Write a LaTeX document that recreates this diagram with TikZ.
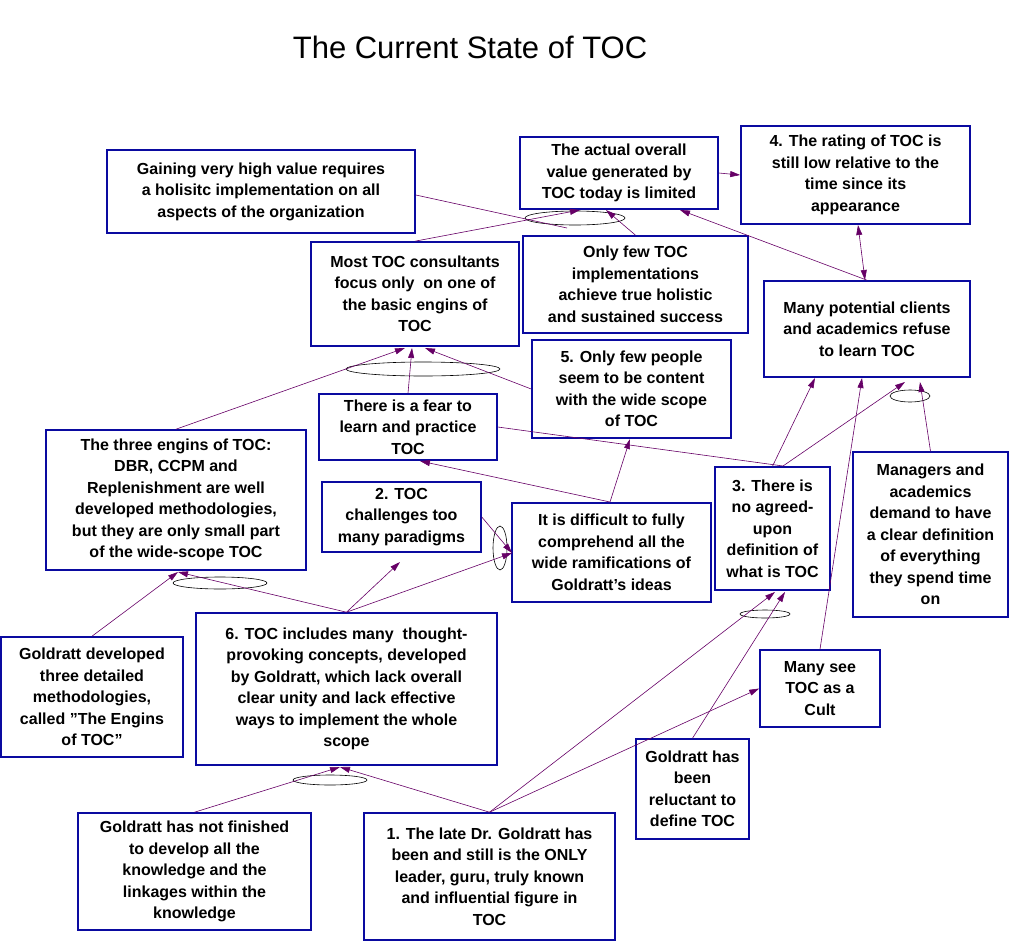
\documentclass[tikz,border=0pt]{standalone}
\usepackage{fontspec}
\setmainfont{Liberation Sans}
\usetikzlibrary{arrows.meta}
\definecolor{lnk}{HTML}{660066}
\definecolor{bx}{HTML}{0A0AA0}
\begin{document}
\begin{tikzpicture}[x=1pt,y=-1pt,
  box/.style={draw=bx,line width=1.6pt,fill=white,align=center,inner sep=2pt,font=\fontsize{16}{21.5}\selectfont\bfseries},
  lk/.style={draw=lnk,line width=0.6pt},
  ar/.style={lk,-{Triangle[length=10pt,width=6pt]},lnk},
  ell/.style={draw=black,line width=0.6pt}]
\useasboundingbox (0,0) rectangle (1011,942);
\node[font=\fontsize{31}{36}\selectfont] (title) at (470,47) {The Current State of TOC};

% connectors first
\coordinate (e1) at (580,210);
\coordinate (e1b) at (606,210);
\coordinate (e2a) at (405,348);
\coordinate (e2b) at (412,348);
\coordinate (e2c) at (425,348);
\coordinate (e3a) at (815,378);
\coordinate (e3b) at (905,382);
\coordinate (e3c) at (920,382);
\coordinate (ev) at (512,553);
\coordinate (e5) at (178,572);
\coordinate (e6) at (340,767);
\coordinate (e7a) at (775,592);
\coordinate (e7b) at (785,592);

\node[box,minimum width=308,minimum height=83] (gain) at (261,191.5) {Gaining very high value requires\\a holisitc implementation on all\\aspects of the organization};
\node[box,minimum width=198,minimum height=72] (act) at (619,173) {The actual overall\\value generated by\\TOC today is limited};
\node[box,minimum width=229,minimum height=98] (rate) at (855.5,175) {4. The rating of TOC is\\still low relative to the\\time since its\\appearance};
\node[box,minimum width=208,minimum height=104] (most) at (415,294) {Most TOC consultants\\focus only\ \ on one of\\the basic engins of\\TOC};
\node[box,minimum width=225,minimum height=97] (few) at (635.5,284.5) {Only few TOC\\implementations\\achieve true holistic\\and sustained success};
\node[box,minimum width=206,minimum height=96] (many) at (867,329) {Many potential clients\\and academics refuse\\to learn TOC};
\node[box,minimum width=199,minimum height=98] (five) at (631.5,389) {5. Only few people\\seem to be content\\with the wide scope\\of TOC};
\node[box,minimum width=178,minimum height=66] (fear) at (408,427) {There is a fear to\\learn and practice\\TOC};
\node[box,minimum width=260,minimum height=140] (three) at (176,500) {The three engins of TOC:\\DBR, CCPM and\\Replenishment are well\\developed methodologies,\\but they are only small part\\of the wide-scope TOC};
\node[box,minimum width=159,minimum height=70] (two) at (401.5,517) {2. TOC\\challenges too\\many paradigms};
\node[box,minimum width=199,minimum height=99] (diff) at (611.5,552.5) {It is difficult to fully\\comprehend all the\\wide ramifications of\\Goldratt's ideas};
\node[box,minimum width=115,minimum height=123] (nodef) at (772.5,528.5) {3. There is\\no agreed-\\upon\\definition of\\what is TOC};
\node[box,minimum width=155,minimum height=165] (mgr) at (930.5,534.5) {Managers and\\academics\\demand to have\\a clear definition\\of everything\\they spend time\\on};
\node[box,minimum width=182,minimum height=120] (gdev) at (92,697) {Goldratt developed\\three detailed\\methodologies,\\called "The Engins\\of TOC"};
\node[box,minimum width=301,minimum height=152] (six) at (346.5,689) {6. TOC includes many\ \ thought-\\provoking concepts, developed\\by Goldratt, which lack overall\\clear unity and lack effective\\ways to implement the whole\\scope};
\node[box,minimum width=120,minimum height=77] (cult) at (820,688.5) {Many see\\TOC as a\\Cult};
\node[box,minimum width=113,minimum height=100] (rel) at (692.5,789) {Goldratt has\\been\\reluctant to\\define TOC};
\node[box,minimum width=233,minimum height=117] (fin) at (194.5,871.5) {Goldratt has not finished\\to develop all the\\knowledge and the\\linkages within the\\knowledge};
\node[box,minimum width=251,minimum height=127] (one) at (489.5,876.5) {1. The late Dr. Goldratt has\\been and still is the ONLY\\leader, guru, truly known\\and influential figure in\\TOC};

% ellipses
\draw[ell] (575,218) ellipse (50 and 7);
\draw[ell] (423,369) ellipse (77 and 7);
\draw[ell] (910,396) ellipse (20 and 6);
\draw[ell] (500,548) ellipse (7 and 22);
\draw[ell] (220,583) ellipse (47 and 6);
\draw[ell] (330,780) ellipse (37 and 5);
\draw[ell] (765,614) ellipse (25 and 4);

\begin{pgfonlayer}{main}\end{pgfonlayer}
% edges
\draw[lk] (gain.east |- 0,195) -- (567,228);
\draw[ar] (most.north) -- (e1);
\draw[ar] (few.north) -- (e1b);
\draw[ar] (many.north) -- (680,210);
\draw[ar] (act.east) -- (rate.west);
\draw[lk,{Triangle[length=10pt,width=6pt]}-{Triangle[length=10pt,width=6pt]},lnk] (858,225) -- (865,280);
\draw[ar] (three.north) -- (e2a);
\draw[ar] (fear.north) -- (e2b);
\draw[ar] (five.west) -- (e2c);
\draw[lk] (fear.east) -- (783,466);
\draw[ar] (nodef.north) -- (e3a);
\draw[ar] (783,466) -- (e3b);
\draw[ar] (mgr.north) -- (e3c);
\draw[ar] (cult.north) -- (862,378);
\draw[ar] (610,502) -- (630,439);
\draw[ar] (610,502) -- (420,461);
\draw[ar] (two.east) -- (ev);
\draw[ar] (six.north) -- (ev);
\draw[ar] (six.north) -- (400,562);
\draw[ar] (six.north) -- (e5);
\draw[ar] (gdev.north) -- (e5);
\draw[ar] (fin.north) -- (e6);
\draw[ar] (one.north) -- (e6);
\draw[ar] (one.north) -- (e7a);
\draw[ar] (one.north) -- (cult.west);
\draw[ar] (rel.north) -- (e7b);
\end{tikzpicture}
\end{document}
